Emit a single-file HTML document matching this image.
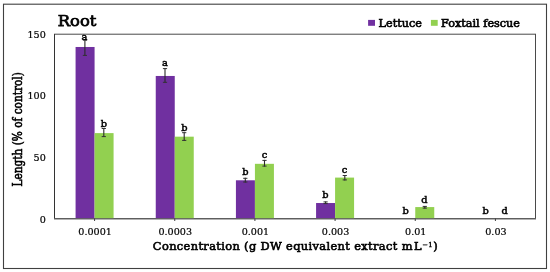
<!DOCTYPE html>
<html><head><meta charset="utf-8"><style>
html,body{margin:0;padding:0;background:#fff;width:550px;height:272px;overflow:hidden}
svg{display:block;filter:blur(0.3px)}
text{font-family:"DejaVu Serif","Liberation Serif",serif;fill:#000}
.lab{font-size:9.8px;stroke:#000;stroke-width:0.5px;text-anchor:middle}
.xt{font-size:9.1px;stroke:#000;stroke-width:0.2px;text-anchor:middle}
.yt{font-size:9.1px;stroke:#000;stroke-width:0.2px;text-anchor:end}
.title{font-size:15.4px;stroke:#000;stroke-width:0.75px}
.leg{font-size:10.6px;stroke:#000;stroke-width:0.6px}
.xtitle{font-size:11.4px;letter-spacing:0.36px;stroke:#000;stroke-width:0.6px;text-anchor:middle}
.ytitle{font-size:12.8px;stroke:#000;stroke-width:0.6px;text-anchor:middle}
</style></head><body>
<svg width="550" height="272" viewBox="0 0 550 272">
<rect x="3.5" y="4.2" width="543" height="264.3" fill="#fff" stroke="#404040" stroke-width="1.1"/>
<rect x="54.5" y="34.2" width="481.0" height="184.3" fill="#fff" stroke="#4a4a4a" stroke-width="1"/>
<rect x="75.58" y="46.98" width="19.00" height="171.52" fill="#7030a0"/>
<rect x="94.58" y="133.11" width="19.00" height="85.39" fill="#92d050"/>
<rect x="155.75" y="75.97" width="19.00" height="142.53" fill="#7030a0"/>
<rect x="174.75" y="136.67" width="19.00" height="81.83" fill="#92d050"/>
<rect x="235.92" y="180.29" width="19.00" height="38.21" fill="#7030a0"/>
<rect x="254.92" y="163.82" width="19.00" height="54.68" fill="#92d050"/>
<rect x="316.08" y="203.02" width="19.00" height="15.48" fill="#7030a0"/>
<rect x="335.08" y="177.59" width="19.00" height="40.91" fill="#92d050"/>
<rect x="415.25" y="207.07" width="19.00" height="11.43" fill="#92d050"/>
<path d="M84.90 39.60V55.90" stroke="#2a2a2a" stroke-width="1.1" fill="none"/>
<path d="M82.80 40.10H87.00M82.80 55.40H87.00" stroke="#333" stroke-width="1" fill="none"/>
<path d="M103.80 128.00V137.10" stroke="#2a2a2a" stroke-width="1.1" fill="none"/>
<path d="M101.70 128.50H105.90M101.70 136.60H105.90" stroke="#333" stroke-width="1" fill="none"/>
<path d="M165.00 68.10V82.80" stroke="#2a2a2a" stroke-width="1.1" fill="none"/>
<path d="M162.90 68.60H167.10M162.90 82.30H167.10" stroke="#333" stroke-width="1" fill="none"/>
<path d="M184.20 132.20V140.90" stroke="#2a2a2a" stroke-width="1.1" fill="none"/>
<path d="M182.10 132.70H186.30M182.10 140.40H186.30" stroke="#333" stroke-width="1" fill="none"/>
<path d="M245.30 177.80V182.50" stroke="#2a2a2a" stroke-width="1.1" fill="none"/>
<path d="M243.20 178.30H247.40M243.20 182.00H247.40" stroke="#333" stroke-width="1" fill="none"/>
<path d="M264.50 159.90V166.60" stroke="#2a2a2a" stroke-width="1.1" fill="none"/>
<path d="M262.40 160.40H266.60M262.40 166.10H266.60" stroke="#333" stroke-width="1" fill="none"/>
<path d="M325.60 201.40V204.10" stroke="#2a2a2a" stroke-width="1.1" fill="none"/>
<path d="M323.50 201.90H327.70M323.50 203.60H327.70" stroke="#333" stroke-width="1" fill="none"/>
<path d="M344.80 175.00V180.40" stroke="#2a2a2a" stroke-width="1.1" fill="none"/>
<path d="M342.70 175.50H346.90M342.70 179.90H346.90" stroke="#333" stroke-width="1" fill="none"/>
<path d="M424.80 205.90V208.60" stroke="#2a2a2a" stroke-width="1.1" fill="none"/>
<path d="M422.70 206.40H426.90M422.70 208.10H426.90" stroke="#333" stroke-width="1" fill="none"/>
<text x="84.50" y="40.00" class="lab">a</text>
<text x="104.00" y="127.10" class="lab">b</text>
<text x="164.90" y="65.80" class="lab">a</text>
<text x="184.40" y="131.40" class="lab">b</text>
<text x="245.40" y="175.30" class="lab">b</text>
<text x="264.50" y="158.30" class="lab">c</text>
<text x="325.40" y="197.80" class="lab">b</text>
<text x="344.60" y="172.50" class="lab">c</text>
<text x="405.60" y="213.60" class="lab">b</text>
<text x="424.40" y="202.50" class="lab">d</text>
<text x="485.70" y="213.90" class="lab">b</text>
<text x="504.70" y="213.90" class="lab">d</text>
<path d="M54.5 34.2V218.5" stroke="#333" stroke-width="1" fill="none"/><path d="M54.0 218.8H536.0" stroke="#666" stroke-width="1.3" fill="none"/>
<path d="M94.58 218.5V221.0" stroke="#404040" stroke-width="1"/>
<path d="M174.75 218.5V221.0" stroke="#404040" stroke-width="1"/>
<path d="M254.92 218.5V221.0" stroke="#404040" stroke-width="1"/>
<path d="M335.08 218.5V221.0" stroke="#404040" stroke-width="1"/>
<path d="M415.25 218.5V221.0" stroke="#404040" stroke-width="1"/>
<path d="M495.42 218.5V221.0" stroke="#404040" stroke-width="1"/>
<text x="95.08" y="234.8" class="xt" textLength="33.58" lengthAdjust="spacingAndGlyphs">0.0001</text>
<text x="175.25" y="234.8" class="xt" textLength="33.58" lengthAdjust="spacingAndGlyphs">0.0003</text>
<text x="255.42" y="234.8" class="xt" textLength="27.48" lengthAdjust="spacingAndGlyphs">0.001</text>
<text x="335.58" y="234.8" class="xt" textLength="27.48" lengthAdjust="spacingAndGlyphs">0.003</text>
<text x="415.75" y="234.8" class="xt" textLength="21.37" lengthAdjust="spacingAndGlyphs">0.01</text>
<text x="495.92" y="234.8" class="xt" textLength="21.37" lengthAdjust="spacingAndGlyphs">0.03</text>
<text x="45.8" y="222.50" class="yt" textLength="6.11" lengthAdjust="spacingAndGlyphs">0</text>
<text x="45.8" y="161.07" class="yt" textLength="12.21" lengthAdjust="spacingAndGlyphs">50</text>
<text x="45.8" y="99.13" class="yt" textLength="18.32" lengthAdjust="spacingAndGlyphs">100</text>
<text x="45.8" y="38.20" class="yt" textLength="18.32" lengthAdjust="spacingAndGlyphs">150</text>
<text x="57.8" y="26" class="title" textLength="38.6" lengthAdjust="spacingAndGlyphs">Root</text>
<rect x="368.1" y="19.9" width="6.9" height="5.9" fill="#7030a0"/>
<text x="378.6" y="26.7" class="leg" textLength="43.2" lengthAdjust="spacingAndGlyphs">Lettuce</text>
<rect x="430.9" y="19.9" width="6.8" height="5.9" fill="#92d050"/>
<text x="441.1" y="26.7" class="leg" textLength="78.8" lengthAdjust="spacingAndGlyphs">Foxtail fescue</text>
<text x="295.5" y="250" class="xtitle">Concentration (g DW equivalent extract m<tspan dx="1.2">L</tspan><tspan dx="0.3" dy="-3.4" font-size="6.8px" stroke-width="0.4px">−1</tspan><tspan dx="0.3" dy="3.4">)</tspan></text>
<text transform="translate(21.6 129.3) rotate(-90) scale(0.823 1)" x="0" y="0" class="ytitle">Length (% of control)</text>
</svg>
</body></html>
